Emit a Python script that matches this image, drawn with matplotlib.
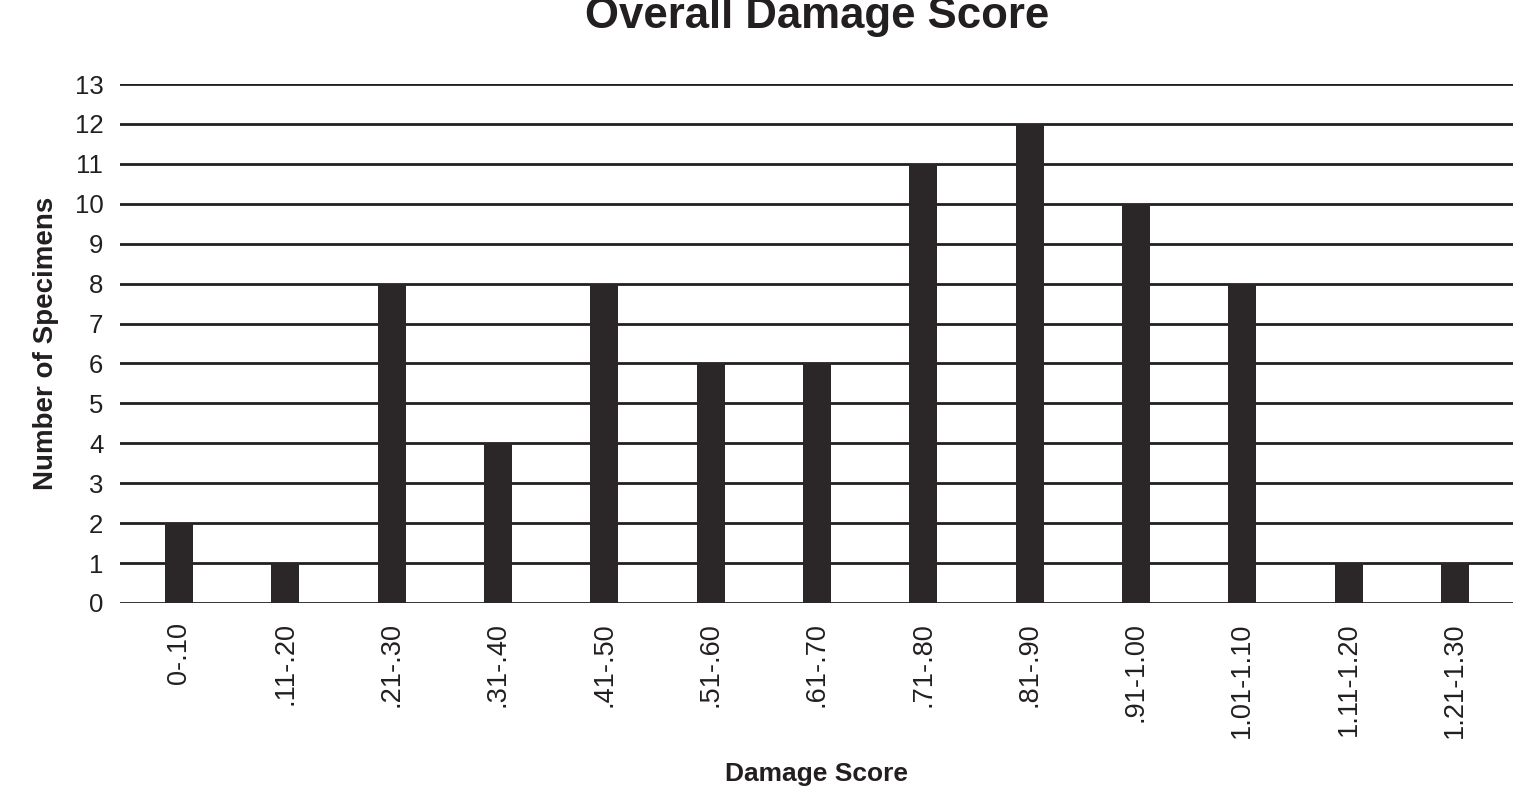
import numpy as np
import matplotlib
matplotlib.use("Agg")
import matplotlib.pyplot as plt

plt.rcParams['font.family'] = ['Liberation Sans', 'DejaVu Sans']

categories = ["0-.10", ".11-.20", ".21-.30", ".31-.40", ".41-.50", ".51-.60",
              ".61-.70", ".71-.80", ".81-.90", ".91-1.00", "1.01-1.10",
              "1.11-1.20", "1.21-1.30"]
counts = [2, 1, 8, 4, 8, 6, 6, 11, 12, 10, 8, 1, 1]
y_ticks = list(range(0, 14))

bar_color = "#2b2627"
text_color = "#231f20"

fig = plt.figure(figsize=(15.24, 7.98), dpi=100)
ax = fig.add_axes([120 / 1524, 1 - 603 / 798, 1393 / 1524, (603 - 84) / 798])

x = np.arange(len(categories))
ax.bar(x, counts, width=0.265, color=bar_color, zorder=3)

ax.set_xlim(-0.555, 12.546)
ax.set_ylim(0, 13)
ax.set_yticks(y_ticks)
ax.set_yticklabels([str(t) for t in y_ticks], fontsize=18.5, color=text_color)
ax.set_xticks(x)
ax.set_xticklabels(categories, rotation=90, fontsize=19.5, color=text_color)
ax.tick_params(axis='both', length=0)
ax.tick_params(axis='x', pad=14)
ax.tick_params(axis='y', pad=12)

# horizontal rules at every count
for t in y_ticks:
    ax.axhline(t, color=text_color, linewidth=2, zorder=2)

for s in ax.spines.values():
    s.set_visible(False)

ax.set_xlabel("Damage Score", fontsize=19, fontweight='bold', color=text_color)
ax.xaxis.set_label_coords(0.5, -(762 - 603) / 519)
ax.set_ylabel("Number of Specimens", fontsize=20, fontweight='bold', color=text_color, labelpad=11)

fig.text(817 / 1524, 1 - 28 / 798, "Overall Damage Score", ha='center', va='baseline',
         fontsize=31.5, fontweight='bold', color=text_color)

fig.savefig("out.png", dpi=100)
